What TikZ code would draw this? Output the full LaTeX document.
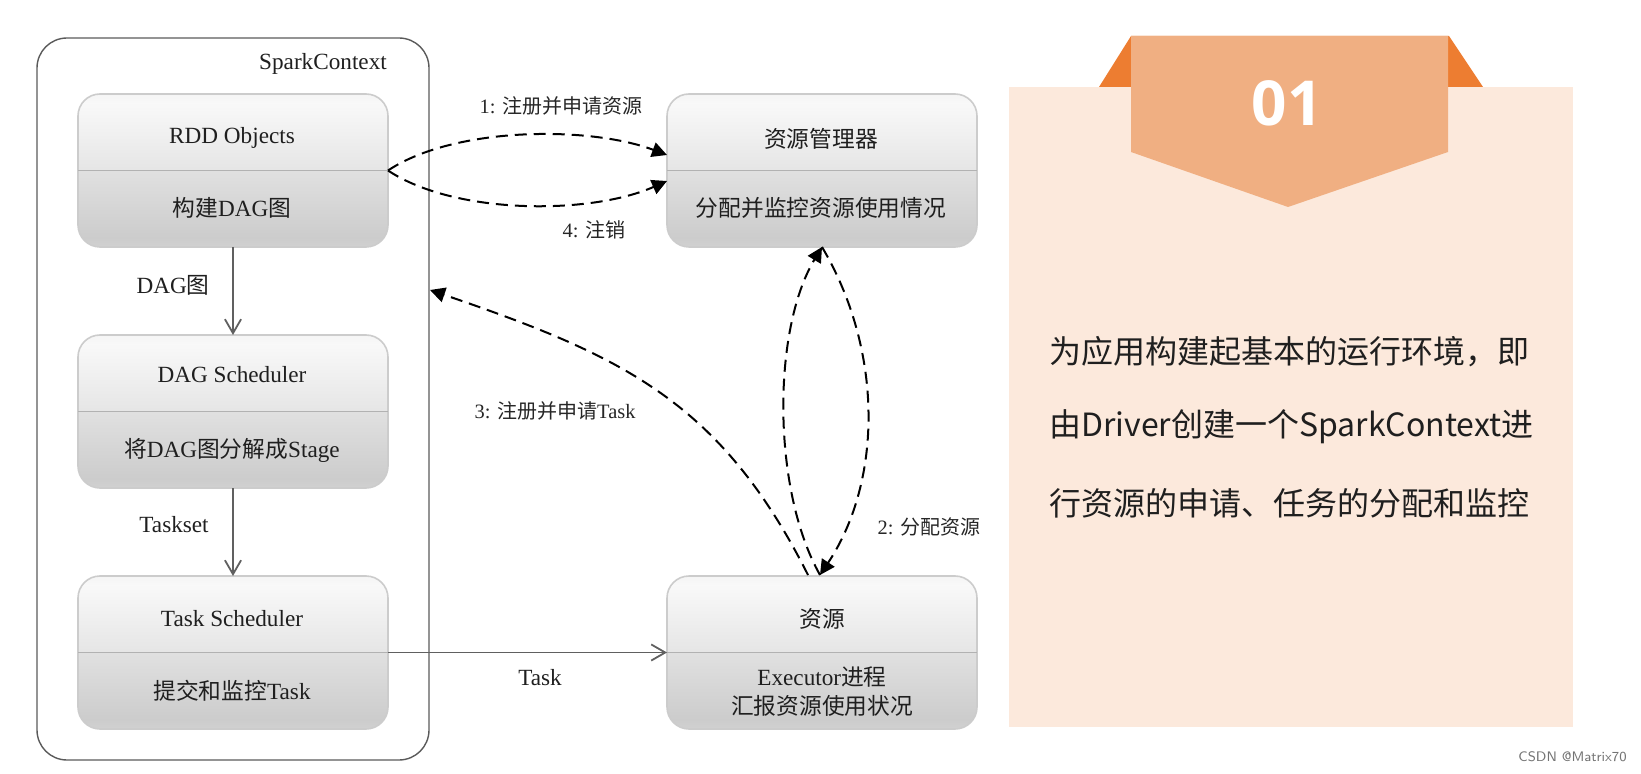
\documentclass[tikz,border=0pt]{standalone}
\usepackage{fontspec}
\setmainfont{Liberation Serif}
\newfontfamily\cjkserif{Noto Sans CJK SC}[Scale=0.98]
\newfontfamily\cjksans{Noto Sans CJK SC}
\newfontfamily\markfont{Open Sans}
\newcommand{\zh}[1]{{\cjkserif #1}}
\usetikzlibrary{arrows.meta,calc}
\pgfdeclareverticalshading{boxgrad}{100bp}{rgb(0bp)=(.82,.82,.82);rgb(25bp)=(.82,.82,.82);rgb(28bp)=(.80,.80,.80);rgb(49.9bp)=(.88,.88,.88);rgb(50.1bp)=(.90,.90,.90);rgb(72bp)=(.975,.975,.975);rgb(75bp)=(.96,.96,.96);rgb(100bp)=(.96,.96,.96)}
\definecolor{panelc}{HTML}{FCE9DC}
\definecolor{bannerc}{HTML}{F0AF82}
\definecolor{earc}{HTML}{ED7D31}
\definecolor{framec}{HTML}{5A5A5A}
\definecolor{arrowc}{HTML}{606060}
\tikzset{
  gbox/.style={rounded corners=11pt,draw=black!20,line width=.8pt,shading=boxgrad,minimum width=155pt,minimum height=76.5pt,inner sep=0pt,outer sep=0pt},
  frame/.style={rounded corners=15pt,draw=framec,line width=.7pt,minimum width=196pt,minimum height=361pt,inner sep=0pt,outer sep=0pt},
  divider/.style={draw=black!30,line width=.9pt},
  boxtext/.style={font=\fontsize{11.6}{14.5}\selectfont,align=center,inner sep=0pt,text=black!88},
  edgetext/.style={font=\fontsize{10.2}{12}\selectfont,inner sep=0pt,text=black!85},
  solidarrow/.style={draw=arrowc,line width=.9pt,-{Straight Barb[length=7pt,width=10pt,angle'=60,line width=.9pt]}},
  dasharrow/.style={draw=black,line width=1pt,dash pattern=on 6pt off 3.5pt,-{Triangle[length=7.5pt,width=7.5pt]}},
  paneltext/.style={font=\cjksans\fontsize{16}{16}\selectfont,anchor=west,inner sep=0pt,text=black!88},
}
\begin{document}
\begin{tikzpicture}[x=0.5pt,y=-0.5pt]
\useasboundingbox (0,0) rectangle (1641,774);
% right panel
\fill[panelc] (1009,87) rectangle (1573,727);
\fill[earc] (1099,87) -- (1131,36) -- (1449,36) -- (1483,87) -- cycle;
\fill[bannerc] (1131,36) -- (1448,36) -- (1448,152) -- (1288,207) -- (1131,152) -- cycle;
\node[font=\markfont\bfseries\fontsize{31}{31}\selectfont,text=white,inner sep=0pt] (num) at (1287,103) {01};
\node[paneltext] (p1) at (1049,352) {为应用构建起基本的运行环境，即};
\node[paneltext] (p2) at (1049,427) {由Driver创建一个SparkContext进};
\node[paneltext] (p3) at (1049,503) {行资源的申请、任务的分配和监控};
% frame
\node[frame] (ctx) at (233,399) {};
\node[boxtext] (ctxlabel) at (323,64) {SparkContext};
% boxes
\node[gbox] (rdd) at (233,170.5) {};
\node[gbox] (dag) at (233,411.5) {};
\node[gbox] (task) at (233,652.5) {};
\node[gbox] (mgr) at (822,170.5) {};
\node[gbox] (res) at (822,652.5) {};
\foreach \b in {rdd,dag,task,mgr,res} \draw[divider] (\b.west) -- (\b.east);
% box text
\node[boxtext] (t1) at (232,138) {RDD Objects};
\node[boxtext] (t2) at (232,208) {\zh{构建}DAG\zh{图}};
\node[boxtext] (t3) at (232,375) {DAG Scheduler};
\node[boxtext] (t4) at (232,450) {\zh{将}DAG\zh{图分解成}Stage};
\node[boxtext] (t5) at (232,619) {Task Scheduler};
\node[boxtext] (t6) at (232,691) {\zh{提交和监控}Task};
\node[boxtext] (t7) at (821,139) {\zh{资源管理器}};
\node[boxtext] (t8) at (821,208) {\zh{分配并监控资源使用情况}};
\node[boxtext] (t9) at (822,619) {\zh{资源}};
\node[boxtext] (t10) at (822,692) {Executor\zh{进程}\\[0pt]\zh{汇报资源使用状况}};
% solid connectors
\draw[solidarrow] (rdd.south) -- (dag.north);
\draw[solidarrow] (dag.south) -- (task.north);
\draw[solidarrow] (task.east) -- (res.west);
% dashed connectors
\coordinate (mgrA) at (667,155);
\coordinate (mgrB) at (667,181);
\coordinate (ctxIn) at (430,290);
\coordinate (resA) at (808,575);
\coordinate (resB) at (820,575);
\draw[dasharrow] (rdd.east) .. controls (455,126) and (590,126) .. (mgrA);
\draw[dasharrow] (rdd.east) .. controls (455,215) and (590,215) .. (mgrB);
\draw[dasharrow] (resB) .. controls (772,490) and (772,330) .. (mgr.south);
\draw[dasharrow] (mgr.south) .. controls (883,350) and (883,480) .. (resB);
\draw[dasharrow] (resA) .. controls (720,400) and (620,355) .. (ctxIn);
% edge labels
\node[boxtext] (l1) at (173,285) {DAG\zh{图}};
\node[boxtext] (l2) at (174,525) {Taskset};
\node[boxtext] (l3) at (540,678) {Task};
\node[edgetext] (l4) at (561,106) {1: \zh{注册并申请资源}};
\node[edgetext] (l5) at (594,230) {4: \zh{注销}};
\node[edgetext] (l6) at (555,411) {3: \zh{注册并申请}Task};
\node[edgetext] (l7) at (929,527) {2: \zh{分配资源}};
\node[font=\sffamily\fontsize{6.9}{8}\selectfont,text=black!55,inner sep=0pt,anchor=east] (wm) at (1627,757) {CSDN @Matrix70};
\end{tikzpicture}
\end{document}
